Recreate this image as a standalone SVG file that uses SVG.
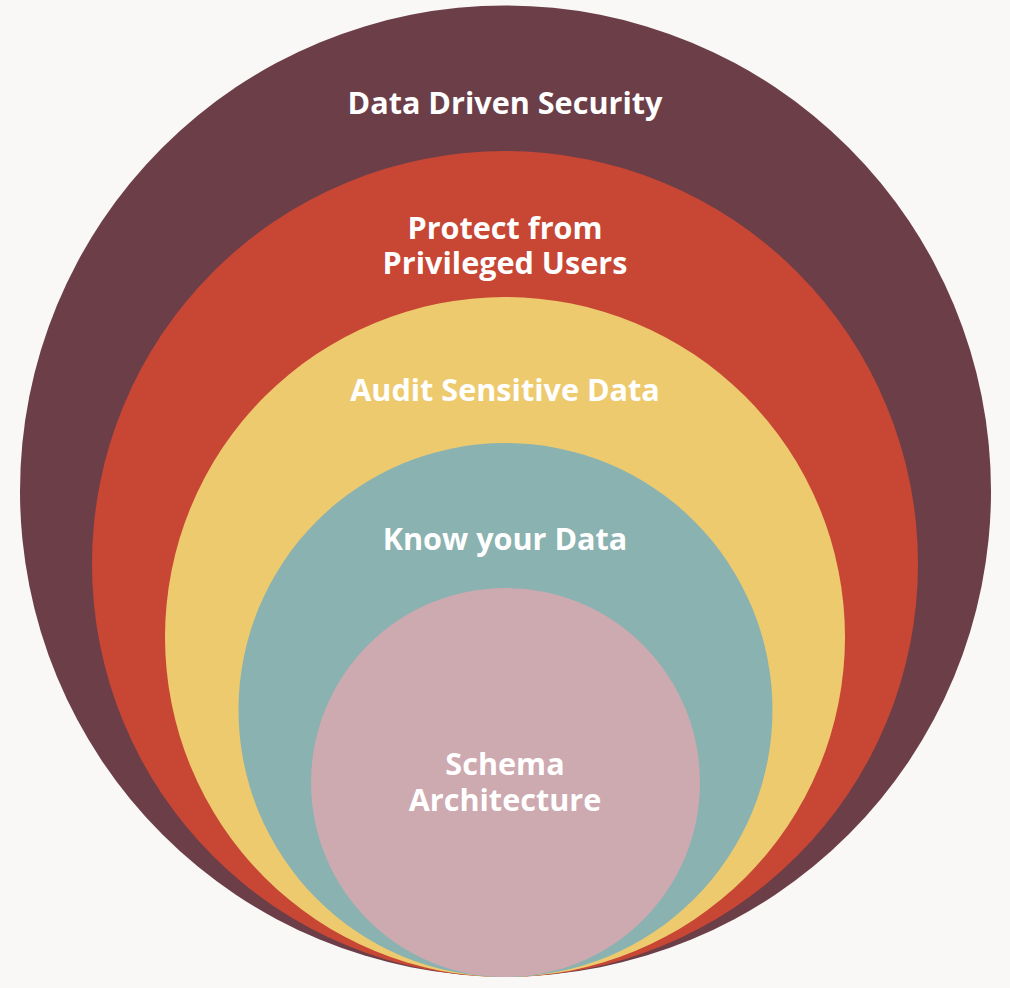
<svg xmlns="http://www.w3.org/2000/svg" width="1010" height="988" viewBox="0 0 1010 988">
<style>
.lbl{font-family:"Open Sans","Liberation Sans",sans-serif;font-weight:700;font-size:30.6px;fill:#FFFFFF;text-anchor:middle;}
</style>
<rect x="0" y="0" width="1010" height="988" fill="#F9F8F6"/>
<g id="data-driven-security">
<circle cx="505.5" cy="491" r="485.5" fill="#6B3E48"/>
<text class="lbl" x="505" y="114">Data Driven Security</text>
</g>
<g id="protect-privileged-users">
<circle cx="505" cy="564" r="413" fill="#C74634"/>
<text class="lbl" x="505" y="239">Protect from</text>
<text class="lbl" x="505" y="274">Privileged Users</text>
</g>
<g id="audit-sensitive-data">
<circle cx="505" cy="637" r="340" fill="#EECA6F"/>
<text class="lbl" x="505" y="401">Audit Sensitive Data</text>
</g>
<g id="know-your-data">
<circle cx="505.5" cy="710" r="267" fill="#89B2B0"/>
<text class="lbl" x="505" y="550">Know your Data</text>
</g>
<g id="schema-architecture">
<circle cx="505.5" cy="782.5" r="194.5" fill="#CDA9B0"/>
<text class="lbl" x="505" y="775">Schema</text>
<text class="lbl" x="505" y="811">Architecture</text>
</g>
<g id="connectors"></g>
</svg>
